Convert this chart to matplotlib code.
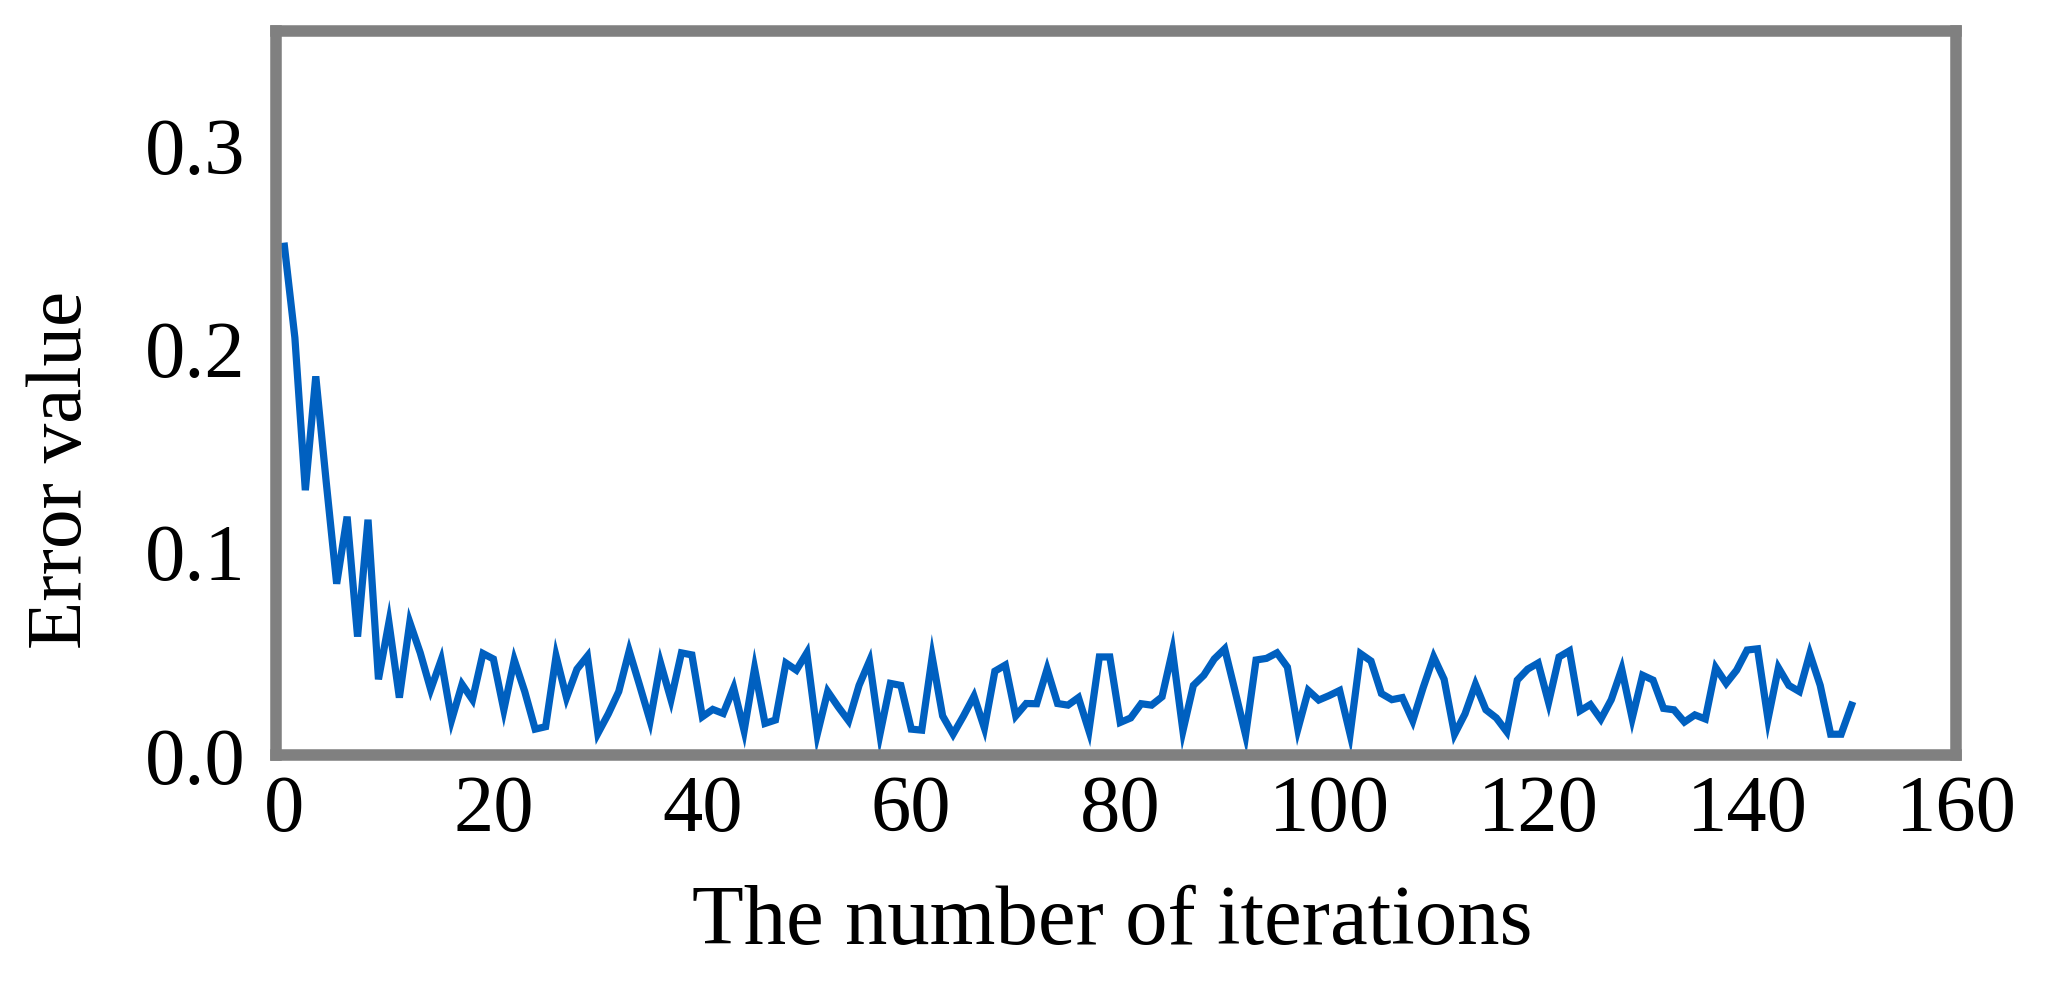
import numpy as np
import matplotlib
matplotlib.use("Agg")
import matplotlib.pyplot as plt

# error value per iteration
error_vals = [
    0.250, 0.205, 0.130, 0.186, 0.134, 0.084, 0.117, 0.058, 0.1155, 0.037,
    0.065, 0.028, 0.065, 0.050, 0.032, 0.0465, 0.017, 0.0345, 0.027, 0.0497,
    0.047, 0.022, 0.0465, 0.031, 0.0125, 0.0137, 0.0484, 0.028, 0.042, 0.0484,
    0.0104, 0.020, 0.031, 0.051, 0.034, 0.0166, 0.045, 0.027, 0.050, 0.049,
    0.0186, 0.0222, 0.0202, 0.0328, 0.0117, 0.0424, 0.0153, 0.017, 0.045, 0.0415,
    0.050, 0.010, 0.031, 0.0235, 0.0166, 0.034, 0.046, 0.010, 0.035, 0.034,
    0.0125, 0.012, 0.048, 0.019, 0.010, 0.019, 0.0287, 0.013, 0.041, 0.044,
    0.019, 0.0251, 0.025, 0.042, 0.0251, 0.0243, 0.028, 0.0117, 0.048, 0.048,
    0.0158, 0.018, 0.025, 0.0243, 0.0284, 0.051, 0.0117, 0.034, 0.039, 0.047,
    0.052, 0.031, 0.0096, 0.0465, 0.0473, 0.050, 0.043, 0.0125, 0.0315, 0.0268,
    0.029, 0.0315, 0.010, 0.0496, 0.046, 0.030, 0.027, 0.028, 0.0166, 0.033,
    0.048, 0.037, 0.010, 0.020, 0.0345, 0.022, 0.018, 0.0112, 0.0366, 0.042,
    0.045, 0.0256, 0.048, 0.051, 0.0215, 0.0246, 0.0174, 0.027, 0.042, 0.0178,
    0.039, 0.0366, 0.0227, 0.022, 0.016, 0.0195, 0.0175, 0.0427, 0.035, 0.0415,
    0.0514, 0.052, 0.0174, 0.0427, 0.034, 0.031, 0.0496, 0.034, 0.010, 0.010,
    0.0243,
]
iterations = np.arange(len(error_vals))

x_ticks = [0, 20, 40, 60, 80, 100, 120, 140, 160]
y_ticks = [0.0, 0.1, 0.2, 0.3]

plt.rcParams['font.family'] = ['Liberation Serif', 'DejaVu Serif']

fig = plt.figure(figsize=(20.45, 9.87), dpi=100)
ax = fig.add_axes([0.135, 0.2345, 0.8215, 0.7334])

ax.plot(iterations, error_vals, color='#0060C0', linewidth=5.2, solid_joinstyle='miter')

ax.set_xlim(-0.8, 160)
ax.set_ylim(0, 0.356)
ax.set_xticks(x_ticks)
ax.set_yticks(y_ticks)
ax.set_yticklabels([f"{v:.1f}" for v in y_ticks])
ax.tick_params(axis='both', length=0, labelsize=58)
ax.tick_params(axis='x', pad=14)
ax.tick_params(axis='y', pad=22)

for sp in ax.spines.values():
    sp.set_color('#808080')
    sp.set_linewidth(8.3)

ax.set_xlabel('The number of iterations', fontsize=61, va='center')
ax.xaxis.set_label_coords(0.498, -0.232)
ax.set_ylabel('Error value', fontsize=57, va='center')
ax.yaxis.set_label_coords(-0.127, 0.394)

fig.savefig('out.png', dpi=100)
